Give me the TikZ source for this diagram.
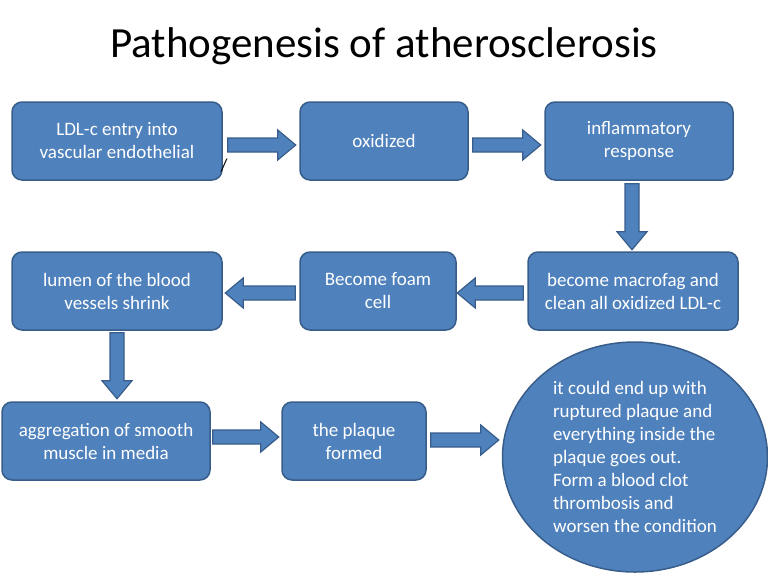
\documentclass[tikz,border=0pt]{standalone}
\usepackage{fontspec}
\setmainfont{Carlito}
\usetikzlibrary{shapes.geometric,calc}
\definecolor{boxfill}{HTML}{4F81BD}
\definecolor{boxline}{HTML}{385D8A}
\tikzset{
  box/.style={draw=boxline, fill=boxfill, line width=1.5pt, rounded corners=10pt,
    text=white, align=center, minimum height=78pt, inner sep=0pt,
    font=\fontsize{19}{23}\selectfont},
  oval/.style={ellipse, draw=boxline, fill=boxfill, line width=1.5pt, text=white,
    align=left, inner sep=0pt, minimum width=265pt, minimum height=230pt,
    font=\fontsize{19}{23}\selectfont},
  barrow/.style={draw=boxline, fill=boxfill, line width=1.2pt, line join=miter},
}
\newcommand\blockarrow[3]{%
  \draw[barrow, shift={(#1)}, rotate=#2]
    (0,-7) -- ({#3-18},-7) -- ({#3-18},-15) -- (#3,0)
    -- ({#3-18},15) -- ({#3-18},7) -- (0,7) -- cycle;}
\begin{document}
\begin{tikzpicture}[x=1pt,y=-1pt]
\useasboundingbox (0,0) rectangle (768,576);
\node[font=\fontsize{43}{50}\selectfont] (title) at (384,46) {Pathogenesis of atherosclerosis};

\node[box, minimum width=210pt] (ldl) at (117,141) {LDL-c entry into\\vascular endothelial};
\node[box, minimum width=168pt] (ox) at (384,141) {oxidized};
\node[box, minimum width=188pt] (inf) at (639,141) {inflammatory\\response};
\node[box, minimum width=210pt] (mac) at (633,291) {become macrofag and\\clean all oxidized LDL-c};
\node[box, minimum width=156pt] (foam) at (378,291) {Become foam\\cell};
\node[box, minimum width=210pt] (lum) at (117,291) {lumen of the blood\\vessels shrink};
\node[box, minimum width=208pt] (agg) at (106,441) {aggregation of smooth\\muscle in media};
\node[box, minimum width=144pt] (plq) at (354,441) {the plaque\\formed};
\node[oval] (clot) at (635,457) {it could end up with\\ruptured plaque and\\everything inside the\\plaque goes out.\\Form a blood clot\\thrombosis and\\worsen the condition};

\node[font=\fontsize{18}{18}\selectfont, inner sep=0pt] (slash) at (224,166) {/};

\blockarrow{$(ldl.east)+(5,4)$}{0}{68}
\blockarrow{$(ox.east)+(4,4)$}{0}{68}
\blockarrow{$(inf.south)+(-7,3)$}{-90}{66}
\blockarrow{$(mac.west)+(-4,2)$}{180}{66}
\blockarrow{$(foam.west)+(-4,2)$}{180}{70}
\blockarrow{$(lum.south)+(0,2)$}{-90}{66}
\blockarrow{$(agg.east)+(2,-4)$}{0}{66}
\blockarrow{$(plq.east)+(4,-1)$}{0}{68}
\end{tikzpicture}
\end{document}
